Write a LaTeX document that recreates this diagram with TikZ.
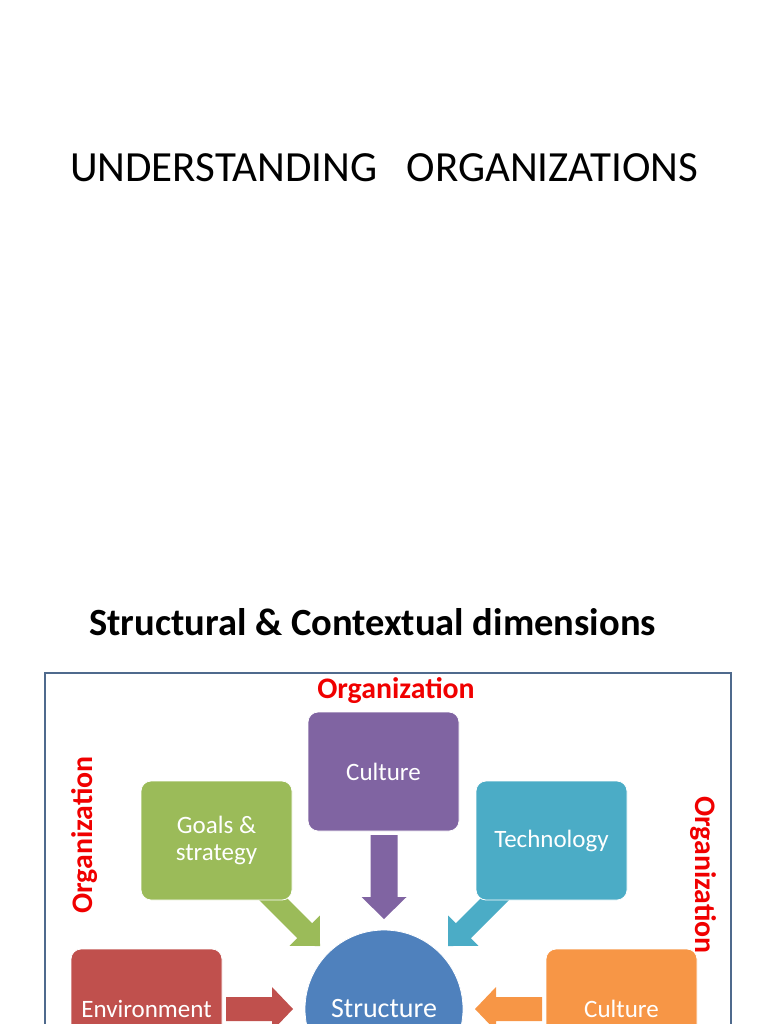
\documentclass[tikz,border=0pt]{standalone}
\usepackage{fontspec}
\setmainfont{Carlito}
\usetikzlibrary{calc}
\definecolor{cpurple}{HTML}{8064A2}
\definecolor{cgreen}{HTML}{9BBB59}
\definecolor{cteal}{HTML}{4BACC6}
\definecolor{cred}{HTML}{C0504D}
\definecolor{corange}{HTML}{F79646}
\definecolor{cblue}{HTML}{4F81BD}
\definecolor{cframe}{HTML}{4F6A8D}
\definecolor{clabel}{HTML}{F00000}
\newcommand{\blockarrow}[6]{% start, tip, shaft half-width, head half-width, head length, colour
  \fill[#6] ($(#1)!#3!90:(#2)$) -- ($($(#2)!#5!(#1)$)!#3!90:(#2)$)
    -- ($($(#2)!#5!(#1)$)!#4!90:(#2)$) -- (#2)
    -- ($($(#2)!#5!(#1)$)!#4!-90:(#2)$) -- ($($(#2)!#5!(#1)$)!#3!-90:(#2)$)
    -- ($(#1)!#3!-90:(#2)$) -- cycle;}
\begin{document}
\begin{tikzpicture}[x=1pt,y=-1pt,
  box/.style={rounded corners=10pt, minimum width=151pt, minimum height=119pt,
    text=white, font=\fontsize{25}{27}\selectfont, align=center, draw=white, line width=0.8pt},
  orglabel/.style={text=clabel, font=\bfseries\fontsize{29.8}{33}\selectfont}]
\useasboundingbox (0,0) rectangle (768,1024);
\clip (0,0) rectangle (768,1024);
\node[font=\fontsize{43}{50}\selectfont] (title) at (384,168) {UNDERSTANDING\ \ \ ORGANIZATIONS};
\node[font=\bfseries\fontsize{38.5}{44}\selectfont] (sub) at (372.5,622) {Structural \& Contextual dimensions};
\node[draw=cframe, line width=1.5pt, anchor=north west, minimum width=686pt, minimum height=430pt, inner sep=0pt] (frame) at (44,672) {};
\node[orglabel] (orgtop) at (396,691) {Organization};
\node[orglabel, rotate=90] (orgleft) at (85,835) {Organization};
\node[orglabel, rotate=-90] (orgright) at (703,875) {Organization};
% arrows (drawn below boxes)
\coordinate (pS) at (384,835); \coordinate (pT) at (384,919);
\coordinate (gS) at (258,884); \coordinate (gT) at (320,946);
\coordinate (tS) at (510,884); \coordinate (tT) at (448,946);
\coordinate (rS) at (226,1009); \coordinate (rT) at (293,1009);
\coordinate (oS) at (542,1009); \coordinate (oT) at (475,1009);
\blockarrow{pS}{pT}{13.5pt}{22.5pt}{22pt}{cpurple}
\blockarrow{gS}{gT}{10.6pt}{21.5pt}{21.6pt}{cgreen}
\blockarrow{tS}{tT}{10.6pt}{21.5pt}{21.6pt}{cteal}
\blockarrow{rS}{rT}{12pt}{22pt}{21pt}{cred}
\blockarrow{oS}{oT}{12pt}{22pt}{21pt}{corange}
% boxes
\node[box, fill=cpurple] (culture1) at (383.5,771.5) {Culture};
\node[box, fill=cgreen] (goals) at (216.5,840.5) {Goals \&\\strategy};
\node[box, fill=cteal] (tech) at (551.5,840.5) {Technology};
\node[box, fill=cred] (env) at (146.5,1008.5) {Environment};
\node[box, fill=corange] (culture2) at (621.5,1008.5) {Culture};
\node[circle, fill=cblue, draw=white, line width=0.8pt, minimum size=158pt, text=white,
  font=\fontsize{28}{30}\selectfont] (struct) at (384,1009) {Structure};
\end{tikzpicture}
\end{document}
